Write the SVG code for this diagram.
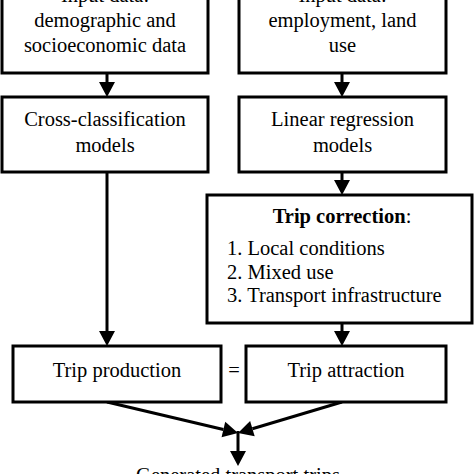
<svg xmlns="http://www.w3.org/2000/svg" width="474" height="474" viewBox="0 0 474 474">
<style>
.box{fill:#fff;stroke:#000;stroke-width:3}
.t{font-family:"Liberation Serif","Times New Roman",serif;font-size:20.5px;fill:#000}
.c{text-anchor:middle}
.ln{stroke:#000;stroke-width:3;fill:none}
</style>
<defs>
<marker id="ah" markerUnits="userSpaceOnUse" markerWidth="16" markerHeight="16" refX="0" refY="8" orient="auto" overflow="visible">
<path d="M0,0 L15,8 L0,16 z" fill="#000"/>
</marker>
</defs>
<rect width="474" height="474" fill="#fff"/>
<g id="connectors">
<line class="ln" x1="107" y1="73" x2="107" y2="82" marker-end="url(#ah)"/>
<line class="ln" x1="342" y1="73" x2="342" y2="82" marker-end="url(#ah)"/>
<line class="ln" x1="342" y1="172" x2="342" y2="180" marker-end="url(#ah)"/>
<line class="ln" x1="107" y1="172" x2="107" y2="331" marker-end="url(#ah)"/>
<line class="ln" x1="342" y1="323" x2="342" y2="331" marker-end="url(#ah)"/>
<line class="ln" x1="107" y1="402" x2="223.4" y2="429.5" marker-end="url(#ah)"/>
<line class="ln" x1="342" y1="402" x2="252.4" y2="428.7" marker-end="url(#ah)"/>
<line class="ln" x1="238" y1="431" x2="238" y2="451" marker-end="url(#ah)"/>
</g>
<g id="input-demographic">
<rect class="box" x="2" y="-30" width="206" height="103"/>
<text class="t c" x="105" y="2">Input data:</text>
<text class="t c" x="105" y="27">demographic and</text>
<text class="t c" x="105" y="52">socioeconomic data</text>
</g>
<g id="input-employment">
<rect class="box" x="239" y="-30" width="207" height="103"/>
<text class="t c" x="342.5" y="2">Input data:</text>
<text class="t c" x="342.5" y="27">employment, land</text>
<text class="t c" x="342.5" y="52">use</text>
</g>
<g id="cross-classification">
<rect class="box" x="2" y="97" width="206" height="75"/>
<text class="t c" x="105" y="126">Cross-classification</text>
<text class="t c" x="105" y="152">models</text>
</g>
<g id="linear-regression">
<rect class="box" x="239" y="97" width="207" height="75"/>
<text class="t c" x="342.5" y="126">Linear regression</text>
<text class="t c" x="342.5" y="152">models</text>
</g>
<g id="trip-correction">
<rect class="box" x="207" y="195" width="265" height="128"/>
<text class="t c" x="342" y="223"><tspan font-weight="bold">Trip correction</tspan>:</text>
<text class="t" x="227" y="255">1. Local conditions</text>
<text class="t" x="227" y="279">2. Mixed use</text>
<text class="t" x="227" y="302">3. Transport infrastructure</text>
</g>
<g id="trip-production">
<rect class="box" x="13" y="346" width="208" height="56"/>
<text class="t c" x="117" y="377">Trip production</text>
</g>
<text class="t c" x="234" y="377">=</text>
<g id="trip-attraction">
<rect class="box" x="246" y="346" width="200" height="56"/>
<text class="t c" x="346" y="377">Trip attraction</text>
</g>
<g id="generated">
<text class="t c" x="238" y="482">Generated transport trips</text>
</g>
</svg>
